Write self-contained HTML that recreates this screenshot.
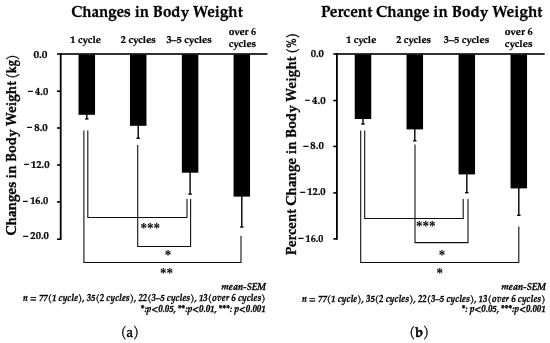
<!DOCTYPE html>
<html><head><meta charset="utf-8"><title>Changes in Body Weight</title>
<style>
html,body{margin:0;padding:0;background:#fff;width:550px;height:343px;overflow:hidden}
svg{display:block;font-family:'TeX Gyre Pagella','Palatino Linotype','Book Antiqua',Palatino,'Liberation Serif',serif}
</style></head><body>
<svg width="550" height="343" viewBox="0 0 550 343">
<rect width="550" height="343" fill="#fff"/>
<rect x="57.00" y="53.20" width="210.50" height="1.60" fill="#000"/>
<rect x="59.80" y="53.20" width="1.80" height="186.80" fill="#000"/>
<rect x="57.00" y="90.40" width="3.70" height="1.60" fill="#000"/>
<rect x="57.00" y="127.20" width="3.70" height="1.60" fill="#000"/>
<rect x="57.00" y="164.20" width="3.70" height="1.60" fill="#000"/>
<rect x="57.00" y="201.10" width="3.70" height="1.60" fill="#000"/>
<rect x="57.00" y="238.40" width="3.70" height="1.60" fill="#000"/>
<text x="47.50" y="57.60" font-size="10.0" font-weight="bold" stroke="#000" stroke-width="0.25" text-anchor="end" textLength="14.06" lengthAdjust="spacingAndGlyphs">0.0</text>
<text x="48.20" y="94.60" font-size="10.0" font-weight="bold" stroke="#000" stroke-width="0.25" text-anchor="end" textLength="13.10" lengthAdjust="spacingAndGlyphs">4.0</text>
<text x="27.84" y="92.94" font-size="7.23" font-weight="bold" stroke="#000" stroke-width="0.45">−</text>
<text x="47.70" y="131.00" font-size="10.0" font-weight="bold" stroke="#000" stroke-width="0.25" text-anchor="end" textLength="13.42" lengthAdjust="spacingAndGlyphs">8.0</text>
<text x="26.81" y="129.41" font-size="7.54" font-weight="bold" stroke="#000" stroke-width="0.45">−</text>
<text x="49.60" y="167.80" font-size="10.0" font-weight="bold" stroke="#000" stroke-width="0.25" text-anchor="end" textLength="18.64" lengthAdjust="spacingAndGlyphs">12.0</text>
<text x="23.63" y="166.18" font-size="7.39" font-weight="bold" stroke="#000" stroke-width="0.45">−</text>
<text x="48.20" y="204.20" font-size="10.0" font-weight="bold" stroke="#000" stroke-width="0.25" text-anchor="end" textLength="18.00" lengthAdjust="spacingAndGlyphs">16.0</text>
<text x="22.53" y="202.58" font-size="7.39" font-weight="bold" stroke="#000" stroke-width="0.45">−</text>
<text x="48.80" y="239.10" font-size="10.0" font-weight="bold" stroke="#000" stroke-width="0.25" text-anchor="end" textLength="18.42" lengthAdjust="spacingAndGlyphs">20.0</text>
<text x="22.79" y="237.58" font-size="7.86" font-weight="bold" stroke="#000" stroke-width="0.45">−</text>
<rect x="78.55" y="54.50" width="16.50" height="60.30" fill="#000"/>
<rect x="86.10" y="114.30" width="1.40" height="4.60" fill="#000"/>
<rect x="85.10" y="118.20" width="3.40" height="1.40" fill="#000"/>
<rect x="129.95" y="54.50" width="16.50" height="71.30" fill="#000"/>
<rect x="137.50" y="125.30" width="1.40" height="12.90" fill="#000"/>
<rect x="136.50" y="137.50" width="3.40" height="1.40" fill="#000"/>
<rect x="181.85" y="54.50" width="16.50" height="118.20" fill="#000"/>
<rect x="189.40" y="172.20" width="1.40" height="21.90" fill="#000"/>
<rect x="188.40" y="193.40" width="3.40" height="1.40" fill="#000"/>
<rect x="233.55" y="54.50" width="16.50" height="142.10" fill="#000"/>
<rect x="241.10" y="196.10" width="1.40" height="30.90" fill="#000"/>
<rect x="240.10" y="226.30" width="3.40" height="1.40" fill="#000"/>
<text x="156.95" y="16.60" font-size="15.3" font-weight="bold" stroke="#000" stroke-width="0.3" text-anchor="middle" textLength="171.50" lengthAdjust="spacingAndGlyphs">Changes in Body Weight</text>
<g transform="translate(15.7,158.35) rotate(-90)">
<text x="0.00" y="0.00" font-size="13.4" font-weight="bold" stroke="#000" stroke-width="0.35" text-anchor="middle" textLength="154.20" lengthAdjust="spacingAndGlyphs">Changes in Body Weight</text>
</g>
<g transform="translate(15.7,66.6) rotate(-90)">
<text x="0.00" y="0.00" font-size="13.4" font-weight="bold" stroke="#000" stroke-width="0.35" text-anchor="middle" textLength="24.20" lengthAdjust="spacingAndGlyphs">(kg)</text>
</g>
<text x="85.65" y="43.00" font-size="9.5" font-weight="bold" stroke="#000" stroke-width="0.25" text-anchor="middle" textLength="30.60" lengthAdjust="spacingAndGlyphs">1 cycle</text>
<text x="138.30" y="43.00" font-size="9.5" font-weight="bold" stroke="#000" stroke-width="0.25" text-anchor="middle" textLength="35.00" lengthAdjust="spacingAndGlyphs">2 cycles</text>
<text x="189.10" y="43.00" font-size="9.5" font-weight="bold" stroke="#000" stroke-width="0.25" text-anchor="middle" textLength="45.40" lengthAdjust="spacingAndGlyphs">3–5 cycles</text>
<text x="242.40" y="34.70" font-size="9.5" font-weight="bold" stroke="#000" stroke-width="0.25" text-anchor="middle" textLength="27.40" lengthAdjust="spacingAndGlyphs">over 6</text>
<text x="242.45" y="46.50" font-size="9.5" font-weight="bold" stroke="#000" stroke-width="0.25" text-anchor="middle" textLength="27.30" lengthAdjust="spacingAndGlyphs">cycles</text>
<path d="M87.8 130.4 V217.5 H187 V198.9" fill="none" stroke="#111" stroke-width="1.1"/>
<path d="M137.7 145.0 V246.5 H190.6 V198.9" fill="none" stroke="#111" stroke-width="1.1"/>
<path d="M83.9 130.4 V262.5 H241 V235.8" fill="none" stroke="#111" stroke-width="1.1"/>
<text x="140.40" y="233.30" font-size="14" font-weight="bold" font-family="'Liberation Serif','Times New Roman',serif" textLength="19.65" lengthAdjust="spacingAndGlyphs">***</text>
<text x="164.70" y="260.20" font-size="14" font-weight="bold" font-family="'Liberation Serif','Times New Roman',serif" textLength="6.55" lengthAdjust="spacingAndGlyphs">*</text>
<text x="160.00" y="278.20" font-size="14" font-weight="bold" font-family="'Liberation Serif','Times New Roman',serif" textLength="13.10" lengthAdjust="spacingAndGlyphs">**</text>
<text x="266.00" y="290.00" font-size="9.2" font-weight="bold" stroke="#000" stroke-width="0.3" font-style="italic" text-anchor="end" textLength="44.80" lengthAdjust="spacingAndGlyphs">mean-SEM</text>
<text x="265.60" y="301.30" font-size="9.2" font-weight="bold" stroke="#000" stroke-width="0.3" font-style="italic" text-anchor="end" textLength="242.60" lengthAdjust="spacingAndGlyphs"><tspan>n</tspan> = 77(1 cycle), 35(2 cycles), 22(3–5 cycles), 13(over 6 cycles)</text>
<text x="265.60" y="312.10" font-size="9.2" font-weight="bold" stroke="#000" stroke-width="0.3" font-style="italic" text-anchor="end" textLength="124.90" lengthAdjust="spacingAndGlyphs">*:p&lt;0.05, **:p&lt;0.01, ***: p&lt;0.001</text>
<rect x="333.30" y="53.20" width="211.40" height="1.60" fill="#000"/>
<rect x="336.00" y="53.20" width="1.80" height="186.50" fill="#000"/>
<rect x="333.30" y="99.70" width="3.60" height="1.60" fill="#000"/>
<rect x="333.30" y="145.60" width="3.60" height="1.60" fill="#000"/>
<rect x="333.30" y="192.10" width="3.60" height="1.60" fill="#000"/>
<rect x="333.30" y="238.10" width="3.60" height="1.60" fill="#000"/>
<text x="323.80" y="57.20" font-size="10.0" font-weight="bold" stroke="#000" stroke-width="0.25" text-anchor="end" textLength="13.10" lengthAdjust="spacingAndGlyphs">0.0</text>
<text x="325.60" y="104.00" font-size="10.0" font-weight="bold" stroke="#000" stroke-width="0.25" text-anchor="end" textLength="13.53" lengthAdjust="spacingAndGlyphs">4.0</text>
<text x="304.86" y="102.31" font-size="7.07" font-weight="bold" stroke="#000" stroke-width="0.45">−</text>
<text x="323.80" y="149.20" font-size="10.0" font-weight="bold" stroke="#000" stroke-width="0.25" text-anchor="end" textLength="13.42" lengthAdjust="spacingAndGlyphs">8.0</text>
<text x="302.99" y="147.68" font-size="7.86" font-weight="bold" stroke="#000" stroke-width="0.45">−</text>
<text x="325.60" y="195.10" font-size="10.0" font-weight="bold" stroke="#000" stroke-width="0.25" text-anchor="end" textLength="18.42" lengthAdjust="spacingAndGlyphs">12.0</text>
<text x="299.79" y="193.58" font-size="7.86" font-weight="bold" stroke="#000" stroke-width="0.45">−</text>
<text x="323.30" y="242.00" font-size="10.0" font-weight="bold" stroke="#000" stroke-width="0.25" text-anchor="end" textLength="17.68" lengthAdjust="spacingAndGlyphs">16.0</text>
<text x="297.99" y="240.48" font-size="7.86" font-weight="bold" stroke="#000" stroke-width="0.45">−</text>
<rect x="354.75" y="54.50" width="16.50" height="64.50" fill="#000"/>
<rect x="362.30" y="118.50" width="1.40" height="5.50" fill="#000"/>
<rect x="361.30" y="123.30" width="3.40" height="1.40" fill="#000"/>
<rect x="406.55" y="54.50" width="16.50" height="74.90" fill="#000"/>
<rect x="414.10" y="128.90" width="1.40" height="11.90" fill="#000"/>
<rect x="413.10" y="140.10" width="3.40" height="1.40" fill="#000"/>
<rect x="458.55" y="54.50" width="16.50" height="119.90" fill="#000"/>
<rect x="466.10" y="173.90" width="1.40" height="18.80" fill="#000"/>
<rect x="465.10" y="192.00" width="3.40" height="1.40" fill="#000"/>
<rect x="510.55" y="54.50" width="16.50" height="133.90" fill="#000"/>
<rect x="518.10" y="187.90" width="1.40" height="27.40" fill="#000"/>
<rect x="517.10" y="214.60" width="3.40" height="1.40" fill="#000"/>
<text x="431.65" y="16.70" font-size="15.3" font-weight="bold" stroke="#000" stroke-width="0.3" text-anchor="middle" textLength="221.50" lengthAdjust="spacingAndGlyphs">Percent Change in Body Weight</text>
<g transform="translate(295.6,155.9) rotate(-90)">
<text x="0.00" y="0.00" font-size="13.4" font-weight="bold" stroke="#000" stroke-width="0.35" text-anchor="middle" textLength="198.60" lengthAdjust="spacingAndGlyphs">Percent Change in Body Weight</text>
</g>
<g transform="translate(295.6,43.2) rotate(-90)">
<text x="0.00" y="0.00" font-size="13.4" font-weight="bold" stroke="#000" stroke-width="0.35" text-anchor="middle" textLength="20.60" lengthAdjust="spacingAndGlyphs">(%)</text>
</g>
<text x="361.20" y="43.20" font-size="9.5" font-weight="bold" stroke="#000" stroke-width="0.25" text-anchor="middle" textLength="30.00" lengthAdjust="spacingAndGlyphs">1 cycle</text>
<text x="413.65" y="43.20" font-size="9.5" font-weight="bold" stroke="#000" stroke-width="0.25" text-anchor="middle" textLength="34.90" lengthAdjust="spacingAndGlyphs">2 cycles</text>
<text x="466.50" y="42.60" font-size="9.5" font-weight="bold" stroke="#000" stroke-width="0.25" text-anchor="middle" textLength="45.40" lengthAdjust="spacingAndGlyphs">3–5 cycles</text>
<text x="518.70" y="34.50" font-size="9.5" font-weight="bold" stroke="#000" stroke-width="0.25" text-anchor="middle" textLength="27.80" lengthAdjust="spacingAndGlyphs">over 6</text>
<text x="518.70" y="46.50" font-size="9.5" font-weight="bold" stroke="#000" stroke-width="0.25" text-anchor="middle" textLength="27.80" lengthAdjust="spacingAndGlyphs">cycles</text>
<path d="M364.7 130.5 V218.5 H463.2 V198.9" fill="none" stroke="#111" stroke-width="1.1"/>
<path d="M415 144.4 V242.6 H468 V198.9" fill="none" stroke="#111" stroke-width="1.1"/>
<path d="M360.7 130.5 V262.5 H518.8 V226.5" fill="none" stroke="#111" stroke-width="1.1"/>
<text x="416.00" y="231.40" font-size="14" font-weight="bold" font-family="'Liberation Serif','Times New Roman',serif" textLength="19.65" lengthAdjust="spacingAndGlyphs">***</text>
<text x="438.80" y="259.60" font-size="14" font-weight="bold" font-family="'Liberation Serif','Times New Roman',serif" textLength="6.55" lengthAdjust="spacingAndGlyphs">*</text>
<text x="436.50" y="278.20" font-size="14" font-weight="bold" font-family="'Liberation Serif','Times New Roman',serif" textLength="6.55" lengthAdjust="spacingAndGlyphs">*</text>
<text x="546.00" y="290.20" font-size="9.2" font-weight="bold" stroke="#000" stroke-width="0.3" font-style="italic" text-anchor="end" textLength="44.80" lengthAdjust="spacingAndGlyphs">mean-SEM</text>
<text x="545.60" y="301.50" font-size="9.2" font-weight="bold" stroke="#000" stroke-width="0.3" font-style="italic" text-anchor="end" textLength="243.60" lengthAdjust="spacingAndGlyphs"><tspan>n</tspan> = 77(1 cycle), 35(2 cycles), 22(3–5 cycles), 13(over 6 cycles)</text>
<text x="545.60" y="312.10" font-size="9.2" font-weight="bold" stroke="#000" stroke-width="0.3" font-style="italic" text-anchor="end" textLength="83.90" lengthAdjust="spacingAndGlyphs">*: p&lt;0.05, ***:p&lt;0.001</text>
<text x="129.8" y="335.8" font-size="13.5" text-anchor="middle" stroke="#000" stroke-width="0.4" textLength="18.2" lengthAdjust="spacingAndGlyphs">(<tspan dy="0.7" font-size="14.3">a</tspan><tspan dy="-0.7">)</tspan></text>
<text x="419.1" y="335.8" font-size="13.5" text-anchor="middle" stroke="#000" stroke-width="0.4" textLength="19.8" lengthAdjust="spacingAndGlyphs">(<tspan dy="0.7" font-weight="bold" font-size="14">b</tspan><tspan dy="-0.7">)</tspan></text>
</svg>
</body></html>
